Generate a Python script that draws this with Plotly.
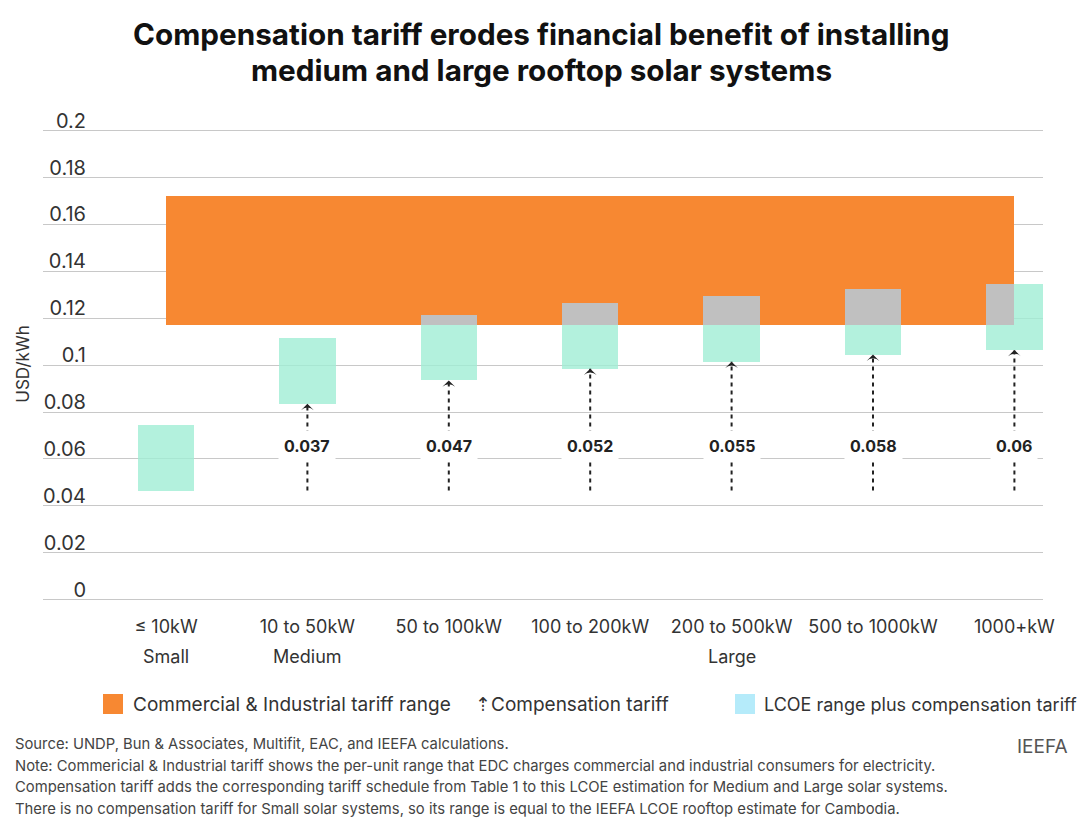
import plotly.graph_objects as go

# ---------------- data ----------------
categories = ["≤ 10kW", "10 to 50kW", "50 to 100kW", "100 to 200kW",
              "200 to 500kW", "500 to 1000kW", "1000+kW"]
size_groups = ["Small", "Medium", "", "", "Large", "", ""]
comp_tariff = [0.0, 0.037, 0.047, 0.052, 0.055, 0.058, 0.06]
lcoe_low = 0.0465
lcoe_high = 0.0745
ci_low = 0.117
ci_high = 0.172
y_ticks = [0, 0.02, 0.04, 0.06, 0.08, 0.1, 0.12, 0.14, 0.16, 0.18, 0.2]

title_lines = ["Compensation tariff erodes financial benefit of installing",
               "medium and large rooftop solar systems"]
legend_labels = ["Commercial & Industrial tariff range", "⇡Compensation tariff",
                 "LCOE range plus compensation tariff"]
footnotes = [
    "Source: UNDP, Bun & Associates, Multifit, EAC, and IEEFA calculations.",
    "Note: Commericial & Industrial tariff shows the per-unit range that EDC charges commercial and industrial consumers for electricity.",
    "Compensation tariff adds the corresponding tariff schedule from Table 1 to this LCOE estimation for Medium and Large solar systems.",
    "There is no compensation tariff for Small solar systems, so its range is equal to the IEEFA LCOE rooftop estimate for Cambodia.",
]

# ---------------- styling / layout ----------------
W, H = 1090, 831
ML, MR, MT, MB = 43, 47, 126, 229
PW, PH = W - ML - MR, H - MT - MB
FONT = "Inter"
ORANGE = "#f78832"
TEAL = "rgba(160,238,212,0.8)"
GRAY = "#c0c0c0"
LBLUE = "#b5ebfa"
BAR_W = 0.4
yr = [-0.001, 0.202]

def px2x(px):
    return (px - ML) / PW

def py2y(py):
    return (H - MB - py) / PH

n = len(categories)
xs = list(range(n))
bar_lo = [lcoe_low + c for c in comp_tariff]
bar_hi = [lcoe_high + c for c in comp_tariff]

fig = go.Figure()

# LCOE + compensation ranges (teal)
fig.add_trace(go.Bar(
    x=xs, y=[h - l for h, l in zip(bar_hi, bar_lo)], base=bar_lo,
    width=BAR_W, marker=dict(color=TEAL, line=dict(width=0)),
    showlegend=False, hoverinfo="skip"))

# C&I tariff range (orange), spanning first to last category centre
fig.add_trace(go.Bar(
    x=[(xs[0] + xs[-1]) / 2], y=[ci_high - ci_low], base=[ci_low],
    width=[xs[-1] - xs[0]], marker=dict(color=ORANGE, line=dict(width=0)),
    showlegend=False, hoverinfo="skip"))

# overlap of the teal bars with the orange range (gray)
ov_x, ov_y, ov_base, ov_w, ov_off = [], [], [], [], []
for i, (lo, hi) in enumerate(zip(bar_lo, bar_hi)):
    if hi > ci_low:
        left = max(i - BAR_W / 2, xs[0])
        right = min(i + BAR_W / 2, xs[-1])
        ov_x.append(i)
        ov_base.append(max(lo, ci_low))
        ov_y.append(min(hi, ci_high) - max(lo, ci_low))
        ov_w.append(right - left)
        ov_off.append(left - i)
fig.add_trace(go.Bar(
    x=ov_x, y=ov_y, base=ov_base, width=ov_w, offset=ov_off,
    marker=dict(color=GRAY, line=dict(width=0)),
    showlegend=False, hoverinfo="skip"))

# compensation arrows
for i, c in enumerate(comp_tariff):
    if c <= 0:
        continue
    fig.add_trace(go.Scatter(
        x=[i, i], y=[lcoe_low, lcoe_low + c], mode="lines",
        line=dict(color="#222222", width=2, dash="4px,4px"),
        showlegend=False, hoverinfo="skip"))
    fig.add_trace(go.Scatter(
        x=[i], y=[lcoe_low + c], mode="markers",
        marker=dict(symbol="arrow-wide", size=9, color="#222222",
                    line=dict(width=0)),
        showlegend=False, hoverinfo="skip"))
    fig.add_annotation(
        x=i, y=0.0657, xref="x", yref="y", text="<b>%s</b>" % c,
        showarrow=False, bgcolor="white", borderpad=5,
        font=dict(family=FONT, size=16, color="#222222"))

# invisible trace for the label axis
fig.add_trace(go.Scatter(x=[0], y=[0], yaxis="y2", mode="markers",
                         marker=dict(opacity=0), showlegend=False,
                         hoverinfo="skip"))

# group labels (second line)
for i, g in enumerate(size_groups):
    if g:
        fig.add_annotation(
            x=i, y=py2y(656), xref="x", yref="paper", text=g,
            showarrow=False, yanchor="middle",
            font=dict(family=FONT, size=18, color="#333333"))

# title
for k, t in enumerate(title_lines):
    fig.add_annotation(
        x=px2x(541), y=py2y(34 + 36 * k), xref="paper", yref="paper",
        text="<b>%s</b>" % t, showarrow=False, xanchor="center",
        yanchor="middle", font=dict(family=FONT, size=29.7, color="#111111"))

# legend
fig.add_shape(type="rect", xref="paper", yref="paper",
              x0=px2x(103), x1=px2x(123), y0=py2y(714), y1=py2y(694),
              fillcolor=ORANGE, line=dict(width=0))
fig.add_shape(type="rect", xref="paper", yref="paper",
              x0=px2x(735), x1=px2x(755), y0=py2y(714), y1=py2y(694),
              fillcolor=LBLUE, line=dict(width=0))
for px, txt, fs in zip([131, 473, 762], legend_labels, [19, 19, 18]):
    fig.add_annotation(x=px2x(px), y=py2y(704), xref="paper", yref="paper",
                       text=txt, showarrow=False, xanchor="left",
                       yanchor="middle",
                       font=dict(family=FONT, size=fs, color="#333333"))

# footnotes
for k, t in enumerate(footnotes):
    fig.add_annotation(x=px2x(13), y=py2y(744 + 21.5 * k), xref="paper",
                       yref="paper", text=t, showarrow=False,
                       xanchor="left", yanchor="middle",
                       font=dict(family=FONT, size=14.8, color="#444444"))
fig.add_annotation(x=px2x(1070), y=py2y(746), xref="paper", yref="paper",
                   text="IEEFA", showarrow=False, xanchor="right",
                   yanchor="middle",
                   font=dict(family=FONT, size=19, color="#555555"))

fig.update_layout(
    width=W, height=H,
    margin=dict(l=ML, r=MR, t=MT, b=MB),
    paper_bgcolor="white", plot_bgcolor="white",
    barmode="overlay", bargap=0,
    xaxis=dict(range=[(43 - 166) / 141.4, (1043 - 166) / 141.4],
               tickmode="array", tickvals=xs, ticktext=categories,
               showgrid=False, zeroline=False, showline=False, ticks="",
               ticklabelstandoff=12,
               tickfont=dict(family=FONT, size=18, color="#333333")),
    yaxis=dict(range=yr, tickmode="array", tickvals=y_ticks,
               showticklabels=False, showgrid=True, gridcolor="#c8c8c8",
               gridwidth=1, zeroline=False, showline=False, ticks=""),
    yaxis2=dict(range=yr, overlaying="y", anchor="free", side="left",
                position=px2x(86), tickmode="array", tickvals=y_ticks,
                ticktext=[str(v) for v in y_ticks], showgrid=False,
                zeroline=False, showline=False, ticks="",
                ticklabelshift=-10, ticklabelstandoff=0,
                tickfont=dict(family=FONT, size=20, color="#333333"),
                title=dict(text="USD/kWh", standoff=8,
                           font=dict(family=FONT, size=17, color="#333333"))),
)

fig.write_html("out.html")
